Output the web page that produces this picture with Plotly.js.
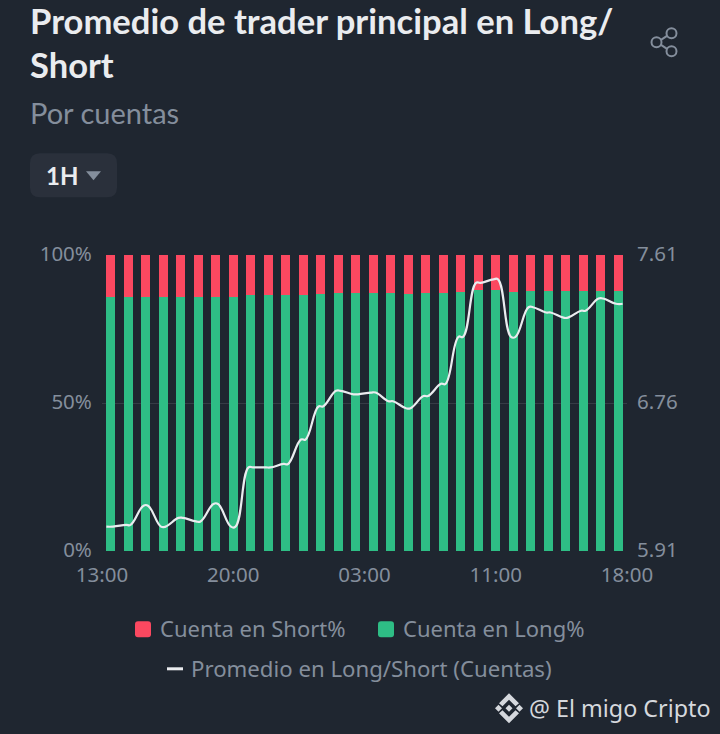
<!DOCTYPE html>
<html>
<head>
<meta charset="utf-8">
<script src="https://cdn.plot.ly/plotly-3.0.1.min.js"></script>
<style>html,body{margin:0;padding:0;background:#1f2630}#c{width:720px;height:734px}</style>
</head>
<body>
<div id="c"></div>
<script>
const slots = [0,1,2,3,4,5,6,7,8,9,10,11,12,13,14,15,16,17,18,19,20,21,22,23,24,25,26,27,28,29];
const longPct = [85.7,85.7,85.9,85.7,85.8,85.7,85.9,85.7,86.4,86.4,86.4,86.6,86.9,87.0,87.0,87.0,87.0,86.9,87.0,87.2,87.5,88.1,88.1,87.5,87.8,87.7,87.7,87.7,87.9,87.7];
const shortPct = [14.3,14.3,14.1,14.3,14.2,14.3,14.1,14.3,13.6,13.6,13.6,13.4,13.1,13.0,13.0,13.0,13.0,13.1,13.0,12.8,12.5,11.9,11.9,12.5,12.2,12.3,12.3,12.3,12.1,12.3];
const ratio = [6.05,6.06,6.17,6.05,6.10,6.08,6.18,6.05,6.39,6.39,6.41,6.55,6.74,6.83,6.81,6.82,6.77,6.73,6.80,6.87,7.14,7.45,7.47,7.14,7.31,7.28,7.25,7.29,7.36,7.33];
const xTickPos = [-0.5,7,14.5,22,29.5];
const xTickText = ['13:00','20:00','03:00','11:00','18:00'];
const leftTicks = [0,50,100];
const leftTickText = ['0%','50%','100%'];
const rightTicks = [5.91,6.76,7.61];
const rightTickText = ['5.91','6.76','7.61'];

const BG='#1f2630', RED='#fb4860', GREEN='#2ebd85', WHITE='#eaecef', MUTED='#848e9c';
const L=102,R=627,T=254.7,B=550.7;
const X=p=>(p-L)/(R-L), Y=p=>(B-p)/(B-T);
const FONT='"Noto Sans", sans-serif';
const HEAD='Lato, sans-serif';

/* the ratio line holds each value briefly over its bar; the two ends reach the bar edges */
const lineX = slots.flatMap(s=>[s-(s===0?0.25:0.13),s+(s===29?0.25:0.13)]);
const lineY = ratio.flatMap(v=>[v,v]);

const traces=[
 {type:'bar',x:slots,y:longPct,name:'Cuenta en Long%',marker:{color:GREEN},width:0.5,hoverinfo:'skip'},
 {type:'bar',x:slots,y:shortPct,name:'Cuenta en Short%',marker:{color:RED},width:0.5,hoverinfo:'skip'},
 {type:'scatter',mode:'lines',x:lineX,y:lineY,yaxis:'y2',name:'Promedio en Long/Short (Cuentas)',
  line:{color:WHITE,width:2.2,shape:'spline',smoothing:1.3},hoverinfo:'skip'}
];
function rr(x0,y0,x1,y1,r){
 const a=v=>X(v),b=v=>Y(v);
 return `M${a(x0+r)},${b(y0)}L${a(x1-r)},${b(y0)}Q${a(x1)},${b(y0)} ${a(x1)},${b(y0+r)}L${a(x1)},${b(y1-r)}Q${a(x1)},${b(y1)} ${a(x1-r)},${b(y1)}L${a(x0+r)},${b(y1)}Q${a(x0)},${b(y1)} ${a(x0)},${b(y1-r)}L${a(x0)},${b(y0+r)}Q${a(x0)},${b(y0)} ${a(x0+r)},${b(y0)}Z`;
}
function poly(pts){return 'M'+pts.map(p=>X(p[0])+','+Y(p[1])).join('L')+'Z';}
function diamond(cx,cy,r){return poly([[cx,cy-r],[cx+r,cy],[cx,cy+r],[cx-r,cy]]);}
const pap={xref:'paper',yref:'paper'};
function circ(cx,cy,r,col){return Object.assign({type:'circle',x0:X(cx-r),x1:X(cx+r),y0:Y(cy+r),y1:Y(cy-r),line:{color:col,width:2}},pap);}
function seg(a,b,c,d,col,w){return Object.assign({type:'line',x0:X(a),y0:Y(b),x1:X(c),y1:Y(d),line:{color:col,width:w}},pap);}
function fill(path,col){return Object.assign({type:'path',path:path,fillcolor:col,line:{width:0}},pap);}
const LOGO='#d5d8dd';
const chevTop=[[509,693],[519,703],[515.5,706],[509,699.5],[502.5,706],[499,703]];
const chevBot=chevTop.map(p=>[p[0],1416-p[1]]);
const shapes=[
 fill(rr(30,153,117,197,10),'#2a303b'),
 fill(poly([[86,171],[101,171],[93.5,180]]),MUTED),
 circ(671.5,33,5,MUTED),circ(656.5,42,5,MUTED),circ(671.5,51,5,MUTED),
 seg(661,39.5,667,35.5,MUTED,2),seg(661,44.5,667,48.5,MUTED,2),
 fill(rr(135,621,151,637,3),RED),
 fill(rr(378,621,394,637,3),GREEN),
 seg(167,668.5,183,668.5,WHITE,3),
 fill(poly(chevTop),LOGO),
 fill(poly(chevBot),LOGO),
 fill(diamond(498.5,708,3.5),LOGO),
 fill(diamond(519.5,708,3.5),LOGO),
 fill(diamond(509,708,3.5),LOGO)
];
function txt(t,x,y,size,col,fam){return {text:t,x:X(x),y:Y(y),xref:'paper',yref:'paper',xanchor:'left',yanchor:'middle',showarrow:false,font:{family:fam||FONT,size:size,color:col}};}
const annotations=[
 txt('<b>Short</b>',27.5,64.5,34.5,WHITE,HEAD),
 txt('Por cuentas',28,112.5,29,MUTED,HEAD),
 txt('<b>1H</b>',44,175,24,WHITE,HEAD),
 txt('Cuenta en Short%',158,628,22,MUTED),
 txt('Cuenta en Long%',401,628,22,MUTED),
 txt('Promedio en Long/Short (Cuentas)',189,668,22.2,MUTED),
 txt('@ El migo Cripto',527,707.5,23.3,LOGO)
];
const tickFont={family:FONT,size:20.5,color:MUTED};
const layout={
 width:720,height:734,autosize:false,
 paper_bgcolor:BG,plot_bgcolor:BG,showlegend:false,barmode:'stack',
 margin:{l:L,r:720-R,t:T,b:734-B,pad:0},
 title:{text:'<b>Promedio de trader principal en Long/</b>',x:30/720,xref:'container',xanchor:'left',y:1-21.5/734,yref:'container',yanchor:'middle',font:{family:HEAD,size:34.6,color:WHITE}},
 xaxis:{range:[-0.5,29.5],tickmode:'array',tickvals:xTickPos,ticktext:xTickText,showgrid:false,zeroline:false,showline:false,ticks:'outside',ticklen:5,tickcolor:'rgba(0,0,0,0)',tickfont:tickFont,fixedrange:true},
 yaxis:{range:[0,100],tickmode:'array',tickvals:leftTicks,ticktext:leftTickText,showgrid:true,gridcolor:'#363c46',gridwidth:1,zeroline:false,showline:false,ticks:'outside',ticklen:5,tickcolor:'rgba(0,0,0,0)',tickfont:tickFont,ticklabelshift:-1,fixedrange:true},
 yaxis2:{range:[5.91,7.61],overlaying:'y',side:'right',tickmode:'array',tickvals:rightTicks,ticktext:rightTickText,showgrid:false,zeroline:false,showline:false,ticks:'outside',ticklen:5,tickcolor:'rgba(0,0,0,0)',tickfont:tickFont,ticklabelshift:-1,fixedrange:true},
 shapes:shapes,annotations:annotations
};
Plotly.newPlot('c',traces,layout,{displayModeBar:false,staticPlot:true});
</script>
</body>
</html>
